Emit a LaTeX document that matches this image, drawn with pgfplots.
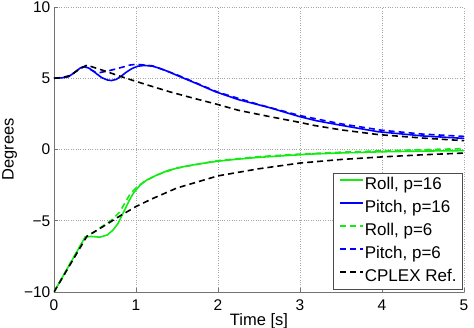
\documentclass[border=0pt]{standalone}
\usepackage{pgfplots}
\pgfplotsset{compat=1.18}
\usepackage{fontspec}
\setmainfont{Liberation Sans}
\definecolor{mgreen}{RGB}{20,235,20}
\definecolor{mblue}{RGB}{0,0,255}

\pgfplotstableread{
t v
0 -10
0.38 -6.15
0.45 -6.1
0.56 -6.15
0.65 -6.0
0.72 -5.65
0.78 -5.2
0.83 -4.6
0.87 -4.15
0.92 -3.55
0.97 -3.05
1.05 -2.5
1.13 -2.15
1.25 -1.8
1.4 -1.45
1.6 -1.18
1.8 -0.98
2.0 -0.82
2.2 -0.7
2.5 -0.55
2.8 -0.44
3.1 -0.33
3.5 -0.24
4.0 -0.16
4.5 -0.11
5.0 -0.08
}\rollA

\pgfplotstableread{
t v
0 -10
0.38 -6.15
0.5 -5.75
0.6 -5.35
0.7 -4.95
0.8 -4.4
0.87 -3.7
0.93 -3.1
1.0 -2.7
1.1 -2.25
1.25 -1.8
1.5 -1.3
2.0 -0.78
2.5 -0.5
3.0 -0.32
3.5 -0.19
4.0 -0.09
4.5 -0.01
5.0 0.06
}\rollB

\pgfplotstableread{
t v
0 -10
0.4 -6.1
0.6 -5.4
0.8 -4.68
1.0 -4.0
1.2 -3.45
1.5 -2.7
2.0 -1.85
2.5 -1.35
3.0 -0.95
3.5 -0.7
4.0 -0.52
4.5 -0.37
5.0 -0.25
}\rollC

\pgfplotstableread{
t v
0 5.0
0.1 5.03
0.18 5.12
0.25 5.4
0.32 5.72
0.37 5.82
0.43 5.7
0.5 5.4
0.58 5.05
0.65 4.88
0.7 4.84
0.76 4.92
0.82 5.15
0.88 5.42
0.95 5.68
1.02 5.84
1.1 5.9
1.2 5.85
1.3 5.68
1.41 5.43
1.5 5.2
1.75 4.6
1.97 4.05
2.25 3.5
2.62 2.95
3.0 2.3
3.2 2.02
3.5 1.7
3.95 1.25
4.5 0.95
5.0 0.78
}\pitchA

\pgfplotstableread{
t v
0 5.0
0.1 5.03
0.18 5.12
0.25 5.4
0.32 5.72
0.37 5.82
0.43 5.65
0.5 5.45
0.56 5.4
0.65 5.5
0.76 5.66
0.85 5.8
0.92 5.92
1.0 5.98
1.1 5.93
1.2 5.87
1.5 5.24
2.0 4.02
2.5 3.15
3.0 2.38
3.5 1.8
4.0 1.35
4.5 1.08
5.0 0.92
}\pitchB

\pgfplotstableread{
t v
0 5.0
0.1 5.05
0.2 5.2
0.3 5.6
0.4 5.92
0.6 5.55
0.8 5.15
1.0 4.78
1.2 4.42
1.41 4.05
1.7 3.6
1.97 3.2
2.25 2.75
2.62 2.32
3.0 1.9
3.18 1.68
3.5 1.38
3.95 1.05
4.5 0.8
5.0 0.62
}\pitchC

\begin{document}
\begin{tikzpicture}
\begin{axis}[
  at={(0,0)}, anchor=south west,
  scale only axis, width=410pt, height=285pt,
  xmin=0, xmax=5, ymin=-10, ymax=10,
  xtick={0,1,2,3,4,5}, ytick={-10,-5,0,5,10},
  xticklabels={0,1,2,3,4,5},
  yticklabels={−10,−5,0,5,10},
  axis x line*=bottom, axis y line*=left,
  axis line style={black!55, line width=0.7pt},
  tick style={black!55, line width=0.6pt},
  tick align=inside, major tick length=4pt,
  grid=major, grid style={dotted, black!35, line width=0.6pt},
  tick label style={font=\fontsize{15.5}{18}\selectfont},
  xticklabel style={anchor=base, inner sep=0pt, yshift=-18pt},
  yticklabel style={anchor=east, inner sep=0pt, xshift=-3.5pt},
  xlabel={Time [s]}, ylabel={Degrees},
  label style={font=\fontsize{16.5}{19}\selectfont},
  xlabel style={at={(axis description cs:0.5,0)}, anchor=base, yshift=-33pt, inner sep=0pt},
  ylabel style={at={(axis description cs:-0.1268,0.5)}, anchor=north, inner sep=0pt},
  legend style={at={(1,0)}, anchor=south east, xshift=-1.3pt, yshift=3pt,
    draw=black!70, fill=white, font=\fontsize{17}{20}\selectfont,
    inner xsep=6pt, inner ysep=3pt, row sep=5pt, column sep=1pt,
    nodes={inner sep=0pt, text height=14pt, text depth=4pt}},
  legend image code/.code={\draw[#1] (0pt,5pt) -- (23pt,5pt);},
  legend cell align=left,
  every axis plot/.append style={line width=1.6pt},
]
\addplot[mgreen, solid] table[x=t,y=v] {\rollA};
\addlegendentry{Roll, p=16}
\addplot[mblue, solid] table[x=t,y=v] {\pitchA};
\addlegendentry{Pitch, p=16}
\addplot[mgreen, dash pattern=on 6pt off 4pt] table[x=t,y=v] {\rollB};
\addlegendentry{Roll, p=6}
\addplot[mblue, dash pattern=on 6pt off 4pt] table[x=t,y=v] {\pitchB};
\addlegendentry{Pitch, p=6}
\addplot[black, dash pattern=on 6pt off 4pt] table[x=t,y=v] {\rollC};
\addlegendentry{CPLEX Ref.}
\addplot[black, dash pattern=on 6pt off 4pt, forget plot] table[x=t,y=v] {\pitchC};
\end{axis}
\pgfresetboundingbox
\useasboundingbox (-54pt,-35pt) rectangle (420pt,292pt);
\end{tikzpicture}
\end{document}
